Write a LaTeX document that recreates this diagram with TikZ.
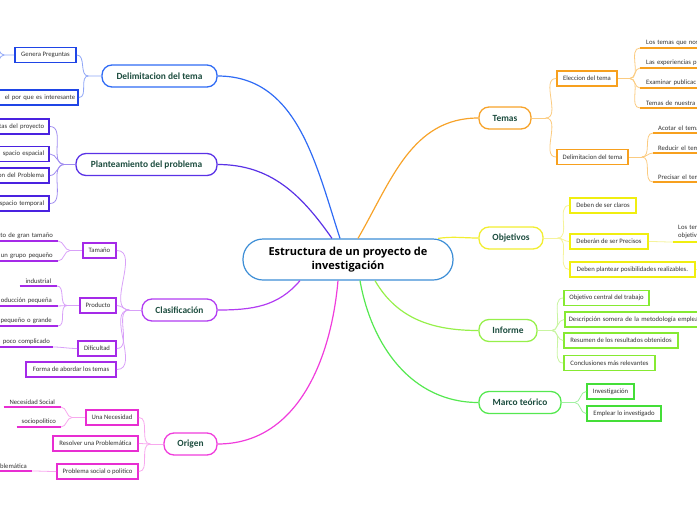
\documentclass[tikz,border=0pt]{standalone}
\usepackage{fontspec}
\setmainfont{Carlito}
\newfontfamily\centerfont{Open Sans}
\usetikzlibrary{calc}
\definecolor{mBlue}{HTML}{2F6BF5}\definecolor{bBlue}{HTML}{1F45E6}\definecolor{lBlue}{HTML}{8FA6F7}
\definecolor{mIndigo}{HTML}{5A32E6}\definecolor{bIndigo}{HTML}{4A22E0}\definecolor{lIndigo}{HTML}{A08CF0}
\definecolor{mViolet}{HTML}{B23CF2}\definecolor{bViolet}{HTML}{A52AE8}\definecolor{lViolet}{HTML}{D8A0F8}
\definecolor{mMag}{HTML}{F03CDC}\definecolor{bMag}{HTML}{E82ED2}\definecolor{lMag}{HTML}{F8A8EE}
\definecolor{mOrange}{HTML}{F7A32A}\definecolor{bOrange}{HTML}{F7A01E}\definecolor{lOrange}{HTML}{FBCB80}
\definecolor{mYellow}{HTML}{F2EE30}\definecolor{bYellow}{HTML}{F0EE10}\definecolor{lYellow}{HTML}{F5F39A}
\definecolor{mLime}{HTML}{96F04A}\definecolor{bLime}{HTML}{86EA32}\definecolor{lLime}{HTML}{C8F5A0}
\definecolor{mGreen}{HTML}{55E850}\definecolor{bGreen}{HTML}{44DE38}\definecolor{lGreen}{HTML}{A0F0A0}
\definecolor{cCenter}{HTML}{3D8ED6}
\definecolor{titlegreen}{HTML}{1D4D3F}
\definecolor{textgray}{HTML}{333333}
\tikzset{
  centerbox/.style={draw=cCenter, line width=1.2pt, rounded corners=20pt, fill=white, text=black,
    font=\centerfont\bfseries\fontsize{11}{14}\selectfont, align=center, minimum width=210pt, minimum height=41pt, inner sep=0pt},
  mainbox/.style={draw=#1, line width=1.3pt, rounded corners=10pt, fill=white, text=titlegreen,
    font=\bfseries\fontsize{9.4}{11}\selectfont, minimum height=22pt, inner sep=0pt},
  subbox/.style={draw=#1, line width=1.7pt, fill=white, text=textgray,
    font=\fontsize{6.7}{8}\selectfont, minimum height=15pt, inner xsep=4pt, inner ysep=0pt},
  cutleft/.style={anchor=east, align=right, text width=#1},
  ultext/.style={text=textgray, font=\fontsize{6.7}{8}\selectfont, inner xsep=0pt, inner ysep=2.5pt},
  mainline/.style={draw=#1, line width=1.2pt},
  subline/.style={draw=#1, line width=0.8pt},
  uline/.style={draw=#1, line width=1.8pt},
}
\begin{document}
\begin{tikzpicture}[x=1pt,y=-1pt]
\useasboundingbox (0,0) rectangle (697,520);
\clip (0,0) rectangle (697,520);

% ---------- nodes ----------
\node[centerbox] (c) at (348,259.5) {Estructura de un proyecto de\\investigación};

\node[mainbox=mBlue, minimum width=115pt] (d) at (159.5,76) {Delimitacion del tema};
\node[mainbox=mIndigo, minimum width=141pt] (p) at (146.5,164.5) {Planteamiento del problema};
\node[mainbox=mViolet, minimum width=75pt] (cl) at (179.5,310) {Clasificación};
\node[mainbox=mMag, minimum width=53pt] (o) at (190.5,444) {Origen};
\node[mainbox=mOrange, minimum width=52pt] (t) at (505,118) {Temas};
\node[mainbox=mYellow, minimum width=64pt] (ob) at (511,238) {Objetivos};
\node[mainbox=mLime, minimum width=58pt] (i) at (508,330.5) {Informe};
\node[mainbox=mGreen, minimum width=82pt] (m) at (520,402.5) {Marco teórico};

% Delimitacion children
\node[subbox=bBlue, minimum width=61pt] (gp) at (45.5,55) {Genera Preguntas};
\node[subbox=bBlue, cutleft=100pt, inner xsep=3pt] (ep) at (79,97.5) {el por que es interesante};

% Planteamiento children
\node[subbox=bIndigo, cutleft=70pt, inner xsep=5pt] (p1) at (50,126.5) {tas del proyecto};
\node[subbox=bIndigo, cutleft=70pt, inner xsep=5pt] (p2) at (50,154) {spacio espacial};
\node[subbox=bIndigo, cutleft=70pt, inner xsep=5pt] (p3) at (50,175.5) {on del Problema};
\node[subbox=bIndigo, cutleft=70pt, inner xsep=5pt] (p4) at (50,203.5) {spacio temporal};

% Clasificacion children
\node[subbox=bViolet, minimum width=33pt] (cl1) at (99.5,250.5) {Tamaño};
\node[subbox=bViolet, minimum width=36pt] (cl2) at (98,305.5) {Producto};
\node[subbox=bViolet, minimum width=38pt] (cl3) at (97,348.5) {Dificultad};
\node[subbox=bViolet, minimum width=90pt] (cl4) at (71,369.5) {Forma de abordar los temas};

\node[ultext, anchor=south east, text width=80pt, align=right, inner xsep=5pt] (ta1) at (58,241) {cto de gran tamaño};
\node[ultext, anchor=south east, text width=80pt, align=right, inner xsep=5pt] (ta2) at (58,261) {un grupo pequeño};
\node[ultext, anchor=south east, minimum width=37pt] (pr1) at (57,286) {industrial};
\node[ultext, anchor=south east, text width=80pt, align=right, inner xsep=6pt] (pr2) at (58,306) {oducción pequeña};
\node[ultext, anchor=south east, text width=80pt, align=right, inner xsep=6pt] (pr3) at (58,326) {pequeño o grande};
\node[ultext, anchor=south east, text width=80pt, align=right, inner xsep=3pt] (di1) at (53,347) {poco complicado};

% Origen children
\node[subbox=bMag, minimum width=52pt] (o1) at (112,417.5) {Una Necesidad};
\node[subbox=bMag, minimum width=85pt] (o2) at (95.5,443.5) {Resolver una Problemática};
\node[subbox=bMag, minimum width=81pt] (o3) at (97.5,471.5) {Problema social o politico};

\node[ultext, anchor=south east, minimum width=57pt] (un1) at (61,407) {Necesidad Social};
\node[ultext, anchor=south east, minimum width=44pt] (un2) at (61,427) {sociopolitico};
\node[ultext, anchor=south east, text width=60pt, align=right, inner xsep=5pt] (ps1) at (32,471) {blemática};

% Temas children
\node[subbox=bOrange, minimum width=60pt] (t1) at (587,78.5) {Eleccion del tema};
\node[subbox=bOrange, minimum width=71pt] (t2) at (592.5,157) {Delimitacion del tema};

\node[ultext, anchor=south west, text width=80pt, align=left, inner xsep=6pt] (e1) at (640,48) {Los temas que nos};
\node[ultext, anchor=south west, text width=80pt, align=left, inner xsep=6pt] (e2) at (640,68) {Las experiencias p};
\node[ultext, anchor=south west, text width=80pt, align=left, inner xsep=6pt] (e3) at (640,88) {Examinar publicac};
\node[ultext, anchor=south west, text width=80pt, align=left, inner xsep=6pt] (e4) at (640,108) {Temas de nuestra};
\node[ultext, anchor=south west, text width=70pt, align=left, inner xsep=5pt] (dl1) at (653,133) {Acotar el tema};
\node[ultext, anchor=south west, text width=70pt, align=left, inner xsep=5pt] (dl2) at (653,153) {Reducir el tem};
\node[ultext, anchor=south west, text width=70pt, align=left, inner xsep=5pt] (dl3) at (653,182) {Precisar el tem};

% Objetivos children
\node[subbox=bYellow, minimum width=66pt] (ob1) at (603,205.5) {Deben de ser claros};
\node[subbox=bYellow, minimum width=78pt] (ob2) at (609,241.5) {Deberán de ser Precisos};
\node[subbox=bYellow, minimum width=125pt] (ob3) at (632.5,269.5) {Deben plantear posibilidades realizables.};
\node[ultext, anchor=south west, text width=50pt, align=left, inner xsep=5pt, inner ysep=3pt,
      font=\fontsize{6.7}{8.5}\selectfont] (lt) at (673,242) {Los ten\\objetiv};
\coordinate (obx) at (710,269.5);

% Informe children
\node[subbox=bLime, minimum width=85pt] (i1) at (606.5,298) {Objetivo central del trabajo};
\node[subbox=bLime, anchor=west, text width=160pt, align=left] (i2) at (564,319.5) {Descripción somera de la metodología emplea};
\node[subbox=bLime, minimum width=114pt] (i3) at (621,340.5) {Resumen de los resultados obtenidos};
\node[subbox=bLime, minimum width=91pt] (i4) at (609.5,363) {Conclusiones más relevantes};

% Marco children
\node[subbox=bGreen, minimum width=47pt] (m1) at (610.5,391.5) {Investigación};
\node[subbox=bGreen, minimum width=74pt] (m2) at (624,413.5) {Emplear lo investigado};

% ---------- main connectors ----------
\draw[mainline=mBlue] ($(c.north)+(-8,0)$) to[out=108,in=0] (d.east);
\draw[mainline=mIndigo] ($(c.north)+(-16,0)$) to[out=125,in=0] (p.east);
\draw[mainline=mOrange] ($(c.north)+(10,0)$) to[out=60,in=180] (t.west);
\draw[mainline=mYellow] ($(c.north)+(90,0)$) to[out=8,in=180] (ob.west);
\draw[mainline=mViolet] ($(c.south)+(-48,0)$) to[out=-130,in=0] (cl.east);
\draw[mainline=mMag] ($(c.south)+(-10,0)$) to[out=-95,in=0] (o.east);
\draw[mainline=mGreen] ($(c.south)+(12,0)$) to[out=-80,in=180] (m.west);
\draw[mainline=mLime] ($(c.south)+(27,0)$) to[out=-60,in=180] (i.west);

% ---------- sub connectors ----------
% Delimitacion
\coordinate (dJ) at ($(d.west)+(-13,0)$);
\draw[subline=lBlue] (d.west) -- (dJ) to[out=180,in=0] (gp.east);
\draw[subline=lBlue] (dJ) to[out=180,in=0] (ep.east);
\coordinate (gpJ) at ($(gp.west)+(-10,0)$);
\coordinate (gpA) at (-6,46);
\coordinate (gpB) at (-6,64);
\draw[subline=lBlue] (gp.west) -- (gpJ) to[out=180,in=0] (gpA);
\draw[subline=lBlue] (gpJ) to[out=180,in=0] (gpB);

% Planteamiento
\coordinate (pJ) at ($(p.west)+(-11,0)$);
\draw[subline=lIndigo] (p.west) -- (pJ);
\foreach \n in {p1,p2,p3,p4} \draw[subline=lIndigo] (pJ) to[out=180,in=0] (\n.east);

% Clasificacion
\coordinate (clJ) at ($(cl.west)+(-12,0)$);
\draw[subline=lViolet] (cl.west) -- (clJ);
\foreach \n in {cl1,cl2,cl3,cl4} \draw[subline=lViolet] (clJ) to[out=180,in=0] (\n.east);
\coordinate (taJ) at ($(cl1.west)+(-12,0)$);
\draw[subline=lViolet] (cl1.west) -- (taJ);
\foreach \n in {ta1,ta2} \draw[subline=lViolet] (taJ) to[out=180,in=0] (\n.south east);
\coordinate (prJ) at ($(cl2.west)+(-12,0)$);
\draw[subline=lViolet] (cl2.west) -- (prJ);
\foreach \n in {pr1,pr2,pr3} \draw[subline=lViolet] (prJ) to[out=180,in=0] (\n.south east);
\draw[subline=lViolet] (cl3.west) to[out=180,in=0] (di1.south east);
\foreach \n in {ta1,ta2,pr1,pr2,pr3,di1} \draw[uline=bViolet] (\n.south west) -- (\n.south east);

% Origen
\coordinate (oJ) at ($(o.west)+(-13,0)$);
\draw[subline=lMag] (o.west) -- (oJ);
\foreach \n in {o1,o2,o3} \draw[subline=lMag] (oJ) to[out=180,in=0] (\n.east);
\coordinate (unJ) at ($(o1.west)+(-13,0)$);
\draw[subline=lMag] (o1.west) -- (unJ);
\foreach \n in {un1,un2} \draw[subline=lMag] (unJ) to[out=180,in=0] (\n.south east);
\draw[subline=lMag] (o3.west) to[out=180,in=0] (ps1.south east);
\foreach \n in {un1,un2,ps1} \draw[uline=bMag] (\n.south west) -- (\n.south east);

% Temas
\coordinate (tJ) at ($(t.east)+(14,0)$);
\draw[subline=lOrange] (t.east) -- (tJ);
\foreach \n in {t1,t2} \draw[subline=lOrange] (tJ) to[out=0,in=180] (\n.west);
\coordinate (t1J) at ($(t1.east)+(12,0)$);
\draw[subline=lOrange] (t1.east) -- (t1J);
\foreach \n in {e1,e2,e3,e4} \draw[subline=lOrange] (t1J) to[out=0,in=180] (\n.south west);
\coordinate (t2J) at ($(t2.east)+(13,0)$);
\draw[subline=lOrange] (t2.east) -- (t2J);
\foreach \n in {dl1,dl2,dl3} \draw[subline=lOrange] (t2J) to[out=0,in=180] (\n.south west);
\foreach \n in {e1,e2,e3,e4,dl1,dl2,dl3} \draw[uline=bOrange] (\n.south west) -- (\n.south east);

% Objetivos
\coordinate (obJ) at ($(ob.east)+(14,0)$);
\draw[subline=lYellow] (ob.east) -- (obJ);
\foreach \n in {ob1,ob2,ob3} \draw[subline=lYellow] (obJ) to[out=0,in=180] (\n.west);
\draw[subline=lYellow] (ob2.east) to[out=0,in=180] (lt.south west);
\draw[uline=bYellow] (lt.south west) -- (lt.south east);
\draw[subline=lYellow] (ob3.east) -- (obx);

% Informe
\coordinate (iJ) at ($(i.east)+(14,0)$);
\draw[subline=lLime] (i.east) -- (iJ);
\foreach \n in {i1,i2,i3,i4} \draw[subline=lLime] (iJ) to[out=0,in=180] (\n.west);

% Marco
\coordinate (mJ) at ($(m.east)+(13,0)$);
\draw[subline=lGreen] (m.east) -- (mJ);
\foreach \n in {m1,m2} \draw[subline=lGreen] (mJ) to[out=0,in=180] (\n.west);
\end{tikzpicture}
\end{document}
